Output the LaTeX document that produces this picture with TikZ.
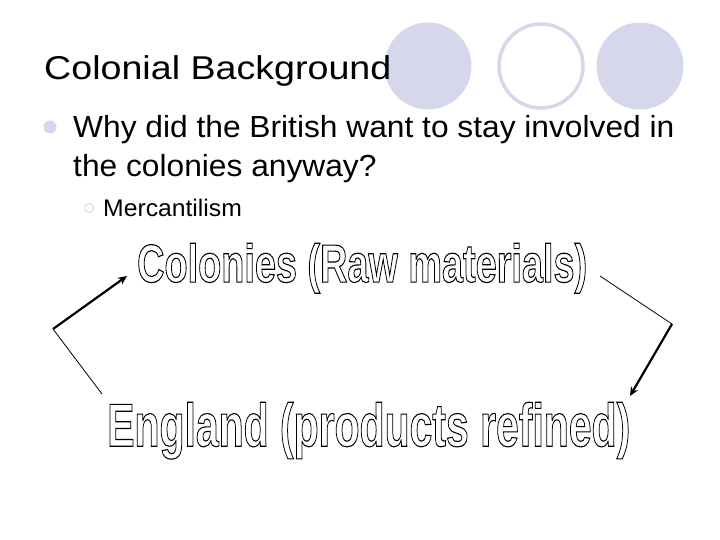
\documentclass[tikz,border=0pt]{standalone}
\usepackage{fontspec}
\setmainfont{Liberation Sans}
\usetikzlibrary{arrows.meta}
\definecolor{lav}{RGB}{215,215,235}
\newcommand{\outl}[1]{\special{pdf:code 1 Tr 1.1 w}#1\special{pdf:code 0 Tr 0.4 w}}
\tikzset{
  deco/.style={fill=lav, draw=none},
  decoring/.style={draw=lav, line width=3.5pt, fill=none},
  txt/.style={anchor=base west, inner sep=0pt, text=black},
  thin/.style={draw=black, line width=0.8pt},
  thickarrow/.style={draw=black, line width=2.2pt, -{Stealth[length=9pt,width=8pt]}},
  wordart/.style={anchor=north west, inner sep=0pt}
}
\begin{document}
\begin{tikzpicture}[x=1pt,y=-1pt]
\useasboundingbox (0,0) rectangle (720,540);
% decorative circles
\fill[deco] (428,66) circle (43.5);
\draw[decoring] (541,66) circle (42);
\fill[deco] (640,66) circle (43.5);
% title
\node[txt, xscale=1.14] (title) at (44,80) {\fontsize{33}{33}\selectfont Colonial Background};
% bullets
\fill[deco] (50,127) circle (6.5);
\draw[draw=lav, line width=1pt] (89,208) circle (4.5);
\node[txt, xscale=1.04] (q1) at (73,138) {\fontsize{30.5}{30.5}\selectfont Why did the British want to stay involved in};
\node[txt, xscale=1.04] (q2) at (73,177) {\fontsize{30.5}{30.5}\selectfont the colonies anyway?};
\node[txt, xscale=1.03] (merc) at (103,216) {\fontsize{24}{24}\selectfont Mercantilism};
% connectors
\coordinate (lb) at (102,394);
\coordinate (lc) at (53,329);
\coordinate (rb) at (600,276);
\coordinate (rc) at (672,324);
% word art texts
\node[wordart] (col) at (137,243) {\resizebox*{450pt}{50pt}{\outl{\fontsize{52}{52}\selectfont\bfseries Colonies (Raw materials)}}};
\node[wordart] (eng) at (107,402) {\resizebox*{523pt}{57pt}{\outl{\fontsize{60}{60}\selectfont\bfseries England (products refined)}}};
\draw[thin] (lb) -- (lc);
\draw[thickarrow] (lc) -- (127,276) coordinate (lt);
\draw[thin] (rb) -- (rc);
\draw[thickarrow] (rc) -- (630,396) coordinate (rt);
\end{tikzpicture}
\end{document}
